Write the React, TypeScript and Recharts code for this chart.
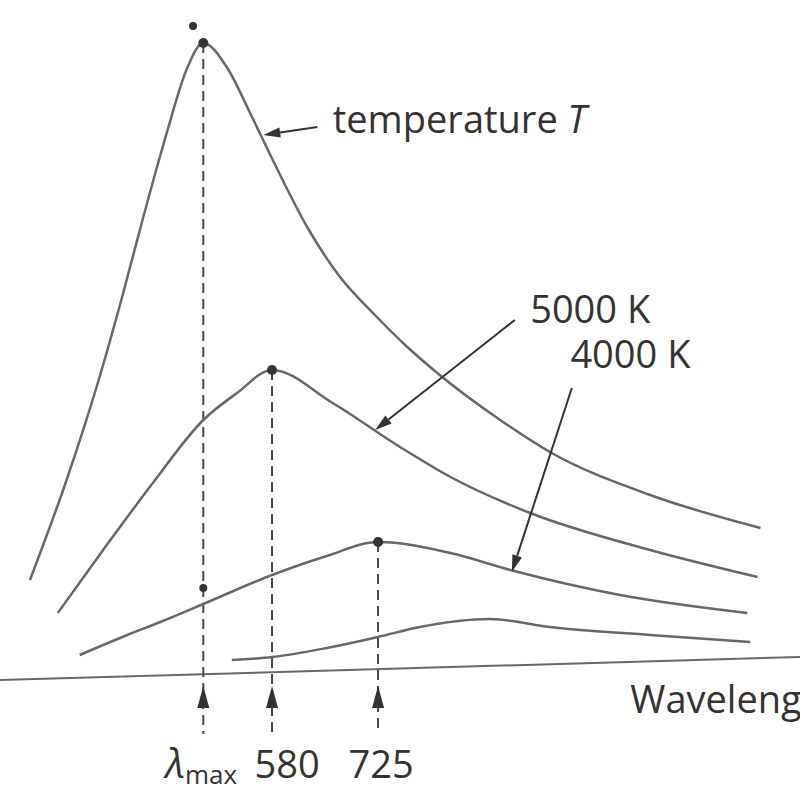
import { ComposedChart, Line, Scatter, XAxis, YAxis, ReferenceLine, ReferenceDot } from 'recharts';

// wavelength (nm) vs relative intensity
const curveT: [number, number][] = [
  [249, 92], [300, 194], [345, 297], [375, 375], [404, 455], [436, 539], [464, 604],
  [486, 629], [518, 605], [550, 559], [581, 512], [628, 445], [673, 395], [718, 359],
  [765, 325], [806, 299], [892, 252], [960, 220], [1097, 177], [1248, 144],
];
const curve5000: [number, number][] = [
  [287, 59], [349, 122], [417, 189], [486, 252], [532, 279], [580, 302], [663, 269],
  [755, 225], [824, 195], [933, 159], [1097, 122], [1244, 95],
];
const curve4000: [number, number][] = [
  [317, 17], [382, 37], [427, 50], [486, 68], [580, 97], [655, 116], [725, 130],
  [824, 119], [906, 102], [1056, 77], [1230, 59],
];
const curveLow: [number, number][] = [
  [525, 12], [581, 15], [655, 24], [725, 35], [782, 45], [878, 53], [960, 45],
  [1097, 37], [1234, 30],
];

// peak wavelengths marked on the axis
const peakTicks = [486, 580, 725];
const tickLabels = ['λmax', '580', '725'];
const peakValues = [629, 302, 130];

const extraDots = [
  { x: 486, y: 84 },
  { x: 472, y: 646 },
];

const X_DOMAIN: [number, number] = [208, 1302];
const Y_DOMAIN: [number, number] = [-48, 672];

const INK = '#363232';
const CURVE = '#6c6666';
const FONT = "'Open Sans', sans-serif";

const toPts = (a: [number, number][]) => a.map(([x, y]) => ({ x, y }));

const peakDots = peakTicks.map((x, i) => ({ x, y: peakValues[i] }));
const arrowPts = peakTicks.map((x) => ({ x, y: -14 }));

const ArrowShape = (p: any) => {
  const { x1, y1, x2, y2 } = p;
  const ang = Math.atan2(y2 - y1, x2 - x1);
  const len = 17;
  const half = 5;
  const bx = x2 - len * Math.cos(ang);
  const by = y2 - len * Math.sin(ang);
  const nx = -Math.sin(ang) * half;
  const ny = Math.cos(ang) * half;
  return (
    <g>
      <line x1={x1} y1={y1} x2={bx} y2={by} stroke={INK} strokeWidth={2} />
      <polygon points={`${x2},${y2} ${bx + nx},${by + ny} ${bx - nx},${by - ny}`} fill={INK} />
    </g>
  );
};

const UpArrow = (p: any) => {
  const { cx, cy } = p;
  return <polygon points={`${cx},${cy} ${cx - 6},${cy + 22} ${cx + 6},${cy + 22}`} fill={INK} />;
};

const PeakTick = (p: any) => {
  const { x, y, index } = p;
  const dx = [-2, 15, 3][index] ?? 0;
  if (index === 0) {
    return (
      <text x={x + dx} y={y + 50} textAnchor="middle" fill={INK} fontFamily={FONT} fontSize={40}>
        <tspan fontStyle="italic">λ</tspan>
        <tspan fontSize={26} dy={6}>max</tspan>
      </text>
    );
  }
  return (
    <text x={x + dx} y={y + 50} textAnchor="middle" fill={INK} fontFamily={FONT} fontSize={38}>
      {tickLabels[index]}
    </text>
  );
};

const textLabel = (value: React.ReactNode) => (p: any) => (
  <text x={p.cx} y={p.cy} fill={INK} fontFamily={FONT} fontSize={38}>
    {value}
  </text>
);

const App = () => {
  return (
    <div style={{ position: 'absolute', left: 0, top: 0, width: 800, height: 800, background: '#fff' }}>
      <ComposedChart width={800} height={800} margin={{ top: 0, right: 0, bottom: 0, left: 0 }}>
        <XAxis
          type="number"
          dataKey="x"
          domain={X_DOMAIN}
          allowDataOverflow
          ticks={peakTicks}
          interval={0}
          height={80}
          axisLine={false}
          tickLine={false}
          tick={PeakTick}
        />
        <YAxis type="number" dataKey="y" domain={Y_DOMAIN} allowDataOverflow hide />

        {/* baseline (slightly tilted in the scan) */}
        <ReferenceLine segment={[{ x: 208, y: -8 }, { x: 1302, y: 15 }]} stroke={CURVE} strokeWidth={2} ifOverflow="visible" />

        {/* dashed drops from each peak */}
        {peakTicks.map((x, i) => (
          <ReferenceLine
            key={`drop-${x}`}
            segment={[{ x, y: peakValues[i] }, { x, y: -62 }]}
            stroke="#4a4646"
            strokeWidth={2}
            strokeDasharray="10 6"
            ifOverflow="visible"
          />
        ))}

        <Line data={toPts(curveT)} dataKey="y" type="monotone" stroke={CURVE} strokeWidth={2.5} dot={false} activeDot={false} isAnimationActive={false} />
        <Line data={toPts(curve5000)} dataKey="y" type="monotone" stroke={CURVE} strokeWidth={2.5} dot={false} activeDot={false} isAnimationActive={false} />
        <Line data={toPts(curve4000)} dataKey="y" type="monotone" stroke={CURVE} strokeWidth={2.5} dot={false} activeDot={false} isAnimationActive={false} />
        <Line data={toPts(curveLow)} dataKey="y" type="monotone" stroke={CURVE} strokeWidth={2.5} dot={false} activeDot={false} isAnimationActive={false} />

        <Scatter data={peakDots} fill={INK} shape={(p: any) => <circle cx={p.cx} cy={p.cy} r={5} fill={INK} />} isAnimationActive={false} />
        <Scatter data={extraDots} fill={INK} shape={(p: any) => <circle cx={p.cx} cy={p.cy} r={4} fill={INK} />} isAnimationActive={false} />
        <Scatter data={arrowPts} fill={INK} shape={UpArrow} isAnimationActive={false} />

        {/* annotation arrows */}
        <ReferenceLine segment={[{ x: 642, y: 545 }, { x: 568, y: 537 }]} shape={ArrowShape} ifOverflow="visible" />
        <ReferenceLine segment={[{ x: 912, y: 352 }, { x: 721, y: 242 }]} shape={ArrowShape} ifOverflow="visible" />
        <ReferenceLine segment={[{ x: 990, y: 284 }, { x: 908, y: 100 }]} shape={ArrowShape} ifOverflow="visible" />

        <ReferenceDot x={663} y={539} r={0} ifOverflow="visible" shape={textLabel(<>temperature <tspan fontStyle="italic">T</tspan></>)} />
        <ReferenceDot x={933} y={349} r={0} ifOverflow="visible" shape={textLabel('5000 K')} />
        <ReferenceDot x={988} y={304} r={0} ifOverflow="visible" shape={textLabel('4000 K')} />
        <ReferenceDot x={1070} y={-41} r={0} ifOverflow="visible" shape={textLabel('Wavelength')} />
      </ComposedChart>
    </div>
  );
};

export default App;
